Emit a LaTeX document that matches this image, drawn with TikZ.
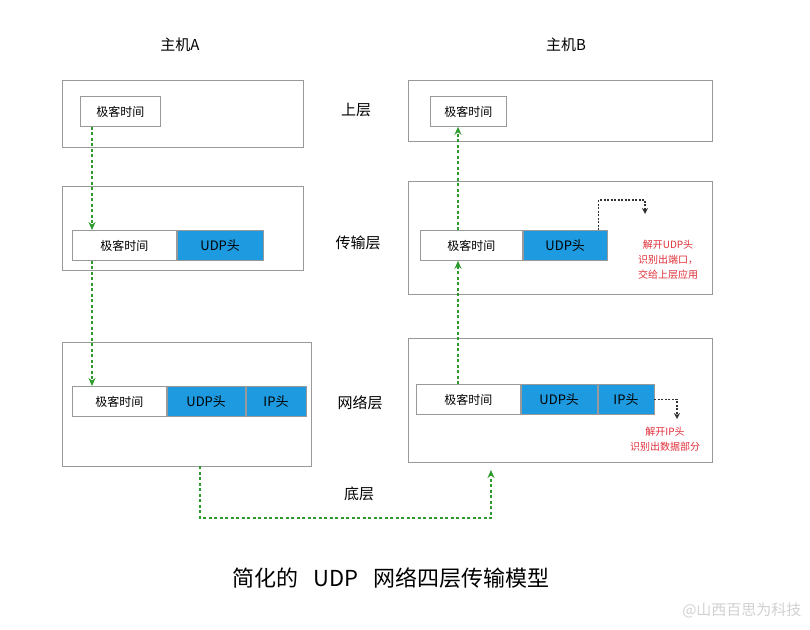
\documentclass[tikz,border=0pt]{standalone}
\usepackage{fontspec}
\setmainfont{Noto Sans CJK SC}
\usetikzlibrary{arrows.meta}
\definecolor{ublue}{HTML}{1E9BE0}
\definecolor{ugreen}{HTML}{2E9A2E}
\definecolor{ured}{HTML}{E0303A}
\begin{document}
\begin{tikzpicture}[x=1pt,y=-1pt,
  layer/.style={draw=gray!80,line width=1pt},
  wbox/.style={draw=gray!80,fill=white,line width=0.8pt,font=\fontsize{12}{14}\selectfont},
  bbox/.style={draw=gray!80,fill=ublue,line width=0.8pt,font=\fontsize{13}{15}\selectfont},
  garr/.style={draw=ugreen,line width=1.5pt,dash pattern=on 3pt off 2.5pt,-{Stealth[length=8pt,width=7pt]}},
  karr/.style={draw=black!80,line width=1.2pt,dash pattern=on 2pt off 1.5pt,-{Stealth[length=6pt,width=6pt]}},
  lbl/.style={font=\fontsize{15}{18}\selectfont},
  rtxt/.style={text=ured,font=\fontsize{10}{15}\selectfont,align=center}]
\useasboundingbox (0,0) rectangle (810,629);
\fill[white] (0,0) rectangle (810,629);
% layers
\draw[layer] (62,80) rectangle (303,147);
\draw[layer] (62,186) rectangle (303,270);
\draw[layer] (62,342) rectangle (311,466);
\draw[layer] (408,80) rectangle (712,141);
\draw[layer] (408,181) rectangle (712,294);
\draw[layer] (408,338) rectangle (712,462);
\coordinate (abot) at (200,466);
% inner boxes A
\node[wbox,minimum width=80,minimum height=30,anchor=north west] (a1) at (80,96) {极客时间};
\node[wbox,minimum width=104,minimum height=30,anchor=north west] (a2) at (72,230) {极客时间};
\node[bbox,minimum width=86,minimum height=30,anchor=west] (a2u) at (a2.east) {UDP头};
\node[wbox,minimum width=94,minimum height=30,anchor=north west] (a3) at (72,386) {极客时间};
\node[bbox,minimum width=78,minimum height=30,anchor=west] (a3u) at (a3.east) {UDP头};
\node[bbox,minimum width=60,minimum height=30,anchor=west] (a3i) at (a3u.east) {IP头};
% inner boxes B
\node[wbox,minimum width=76,minimum height=30,anchor=north west] (b1) at (430,96) {极客时间};
\node[wbox,minimum width=102,minimum height=30,anchor=north west] (b2) at (420,230) {极客时间};
\node[bbox,minimum width=84,minimum height=30,anchor=west] (b2u) at (b2.east) {UDP头};
\node[wbox,minimum width=104,minimum height=30,anchor=north west] (b3) at (416,384) {极客时间};
\node[bbox,minimum width=76,minimum height=30,anchor=west] (b3u) at (b3.east) {UDP头};
\node[bbox,minimum width=56,minimum height=30,anchor=west] (b3i) at (b3u.east) {IP头};
% labels
\node[lbl] (ha) at (180,45) {主机A};
\node[lbl] (hb) at (566,45) {主机B};
\node[lbl] (l1) at (356,110) {上层};
\node[lbl] (l2) at (358,243) {传输层};
\node[lbl] (l3) at (360,403) {网络层};
\node[lbl] (l4) at (359,494) {底层};
\node[font=\fontsize{22}{26}\selectfont] (cap) at (391,578) {简化的\ \ \ UDP\ \ \ 网络四层传输模型};
\node[text=gray!35,font=\fontsize{15}{18}\selectfont,anchor=east] (wm) at (805,610) {@山西百思为科技};
% green arrows
\draw[garr] (a1.south -| 92,0) -- (a2.north -| 92,0);
\draw[garr] (a2.south -| 92,0) -- (a3.north -| 92,0);
\draw[garr] (abot) -- (200,518) -- (491,518) -- (491,470);
\draw[garr] (b3.north -| 458,0) -- (b2.south -| 458,0);
\draw[garr] (b2.north -| 458,0) -- (b1.south -| 458,0);
% black dotted arrows
\coordinate (k1) at (645,214);
\draw[karr] (b2u.north east) ++(-9,0) -- ++(0,-30) -| (k1);
\coordinate (k2) at (677,419);
\draw[karr] (b3i.east) -| (k2);
% red text
\node[rtxt] (r1) at (668,260) {解开UDP头\\识别出端口，\\交给上层应用};
\node[rtxt] (r2) at (665,439) {解开IP头\\识别出数据部分};
\end{tikzpicture}
\end{document}
